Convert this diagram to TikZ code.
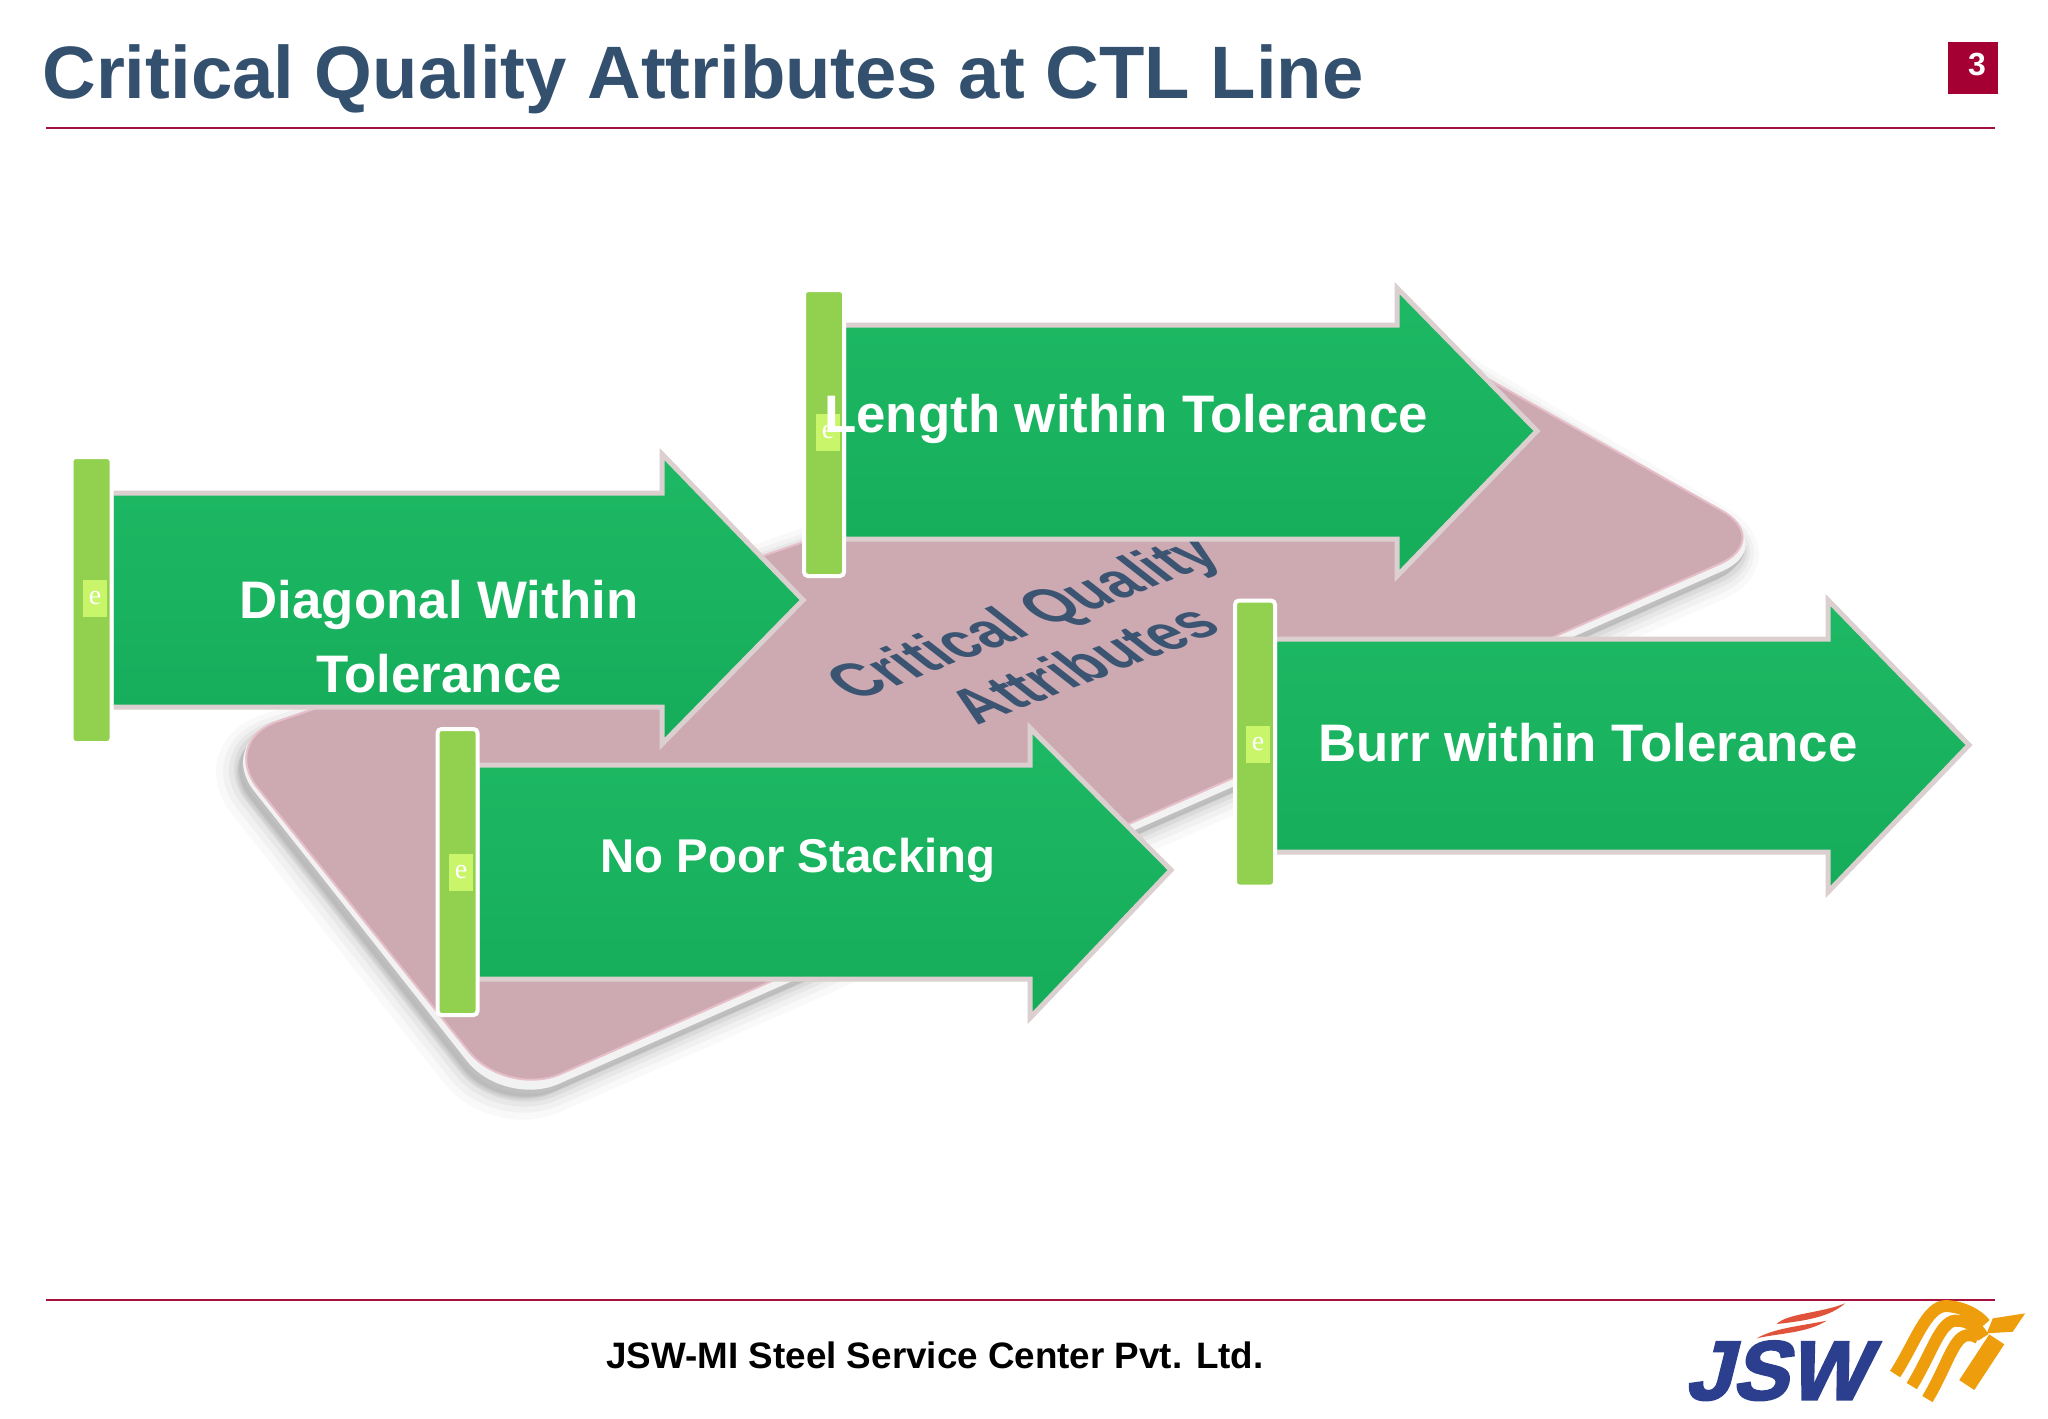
\documentclass[tikz,border=0pt]{standalone}
\usepackage{fontspec}
\setmainfont{Liberation Sans}
\newfontfamily\chipfont{Liberation Serif}
\newfontfamily\logofont[FakeBold=2.5,FakeSlant=.25]{Liberation Sans Bold}
\usetikzlibrary{shapes.geometric}
\definecolor{navytitle}{HTML}{34506F}
\definecolor{linered}{HTML}{A6103F}
\definecolor{badgered}{HTML}{A50034}
\definecolor{arrowtop}{HTML}{1EB964}
\definecolor{arrowlow}{HTML}{15AC5A}
\definecolor{arrowrim}{HTML}{DCCFCF}
\definecolor{barlime}{HTML}{92D050}
\definecolor{chiplime}{HTML}{C8F56A}
\definecolor{traypink}{HTML}{CDAAB2}
\definecolor{trayrim}{HTML}{E6BFCA}
\definecolor{logoblue}{HTML}{2B3F8E}
\definecolor{logored}{HTML}{E0523A}
\definecolor{logoorange}{HTML}{EE9D0C}
\newcommand{\trayrimpath}{(216,748) -- (503,1112) -- (1776,551) -- (1410,335) -- cycle}
\newcommand{\traytoppath}{(220,741) -- (506,1098) -- (1774,540) -- (1410,335) -- cycle}
\begin{document}
\begin{tikzpicture}[x=0.5pt,y=-0.5pt,
  arrowshape/.style={draw=arrowrim,line width=2.5pt,top color=arrowtop,bottom color=arrowlow,line join=miter},
  barshape/.style={rectangle,draw=white,line width=2pt,fill=barlime,rounded corners=2pt,minimum width=20pt,minimum height=143pt,inner sep=0pt},
  chipshape/.style={rectangle,fill=chiplime,text=white,minimum width=12pt,minimum height=18.5pt,inner sep=0pt,font=\chipfont\fontsize{14}{14}\selectfont},
  armlabel/.style={text=white,align=center,font=\bfseries\fontsize{26.4}{37}\selectfont},
  rulered/.style={draw=linered,line width=1.2pt},
  trayshadow/.style={black,rounded corners=30pt,line join=round,draw=black}]
\useasboundingbox (0,0) rectangle (2048,1418);
\fill[white] (0,0) rectangle (2048,1418);

% header and footer
\path (42,79) node[anchor=west,inner sep=0pt,text=navytitle,font=\bfseries\fontsize{37.15}{37}\selectfont](title) {Critical Quality Attributes at CTL Line}
(1973,68) node[rectangle,fill=badgered,minimum width=25pt,minimum height=26pt,inner sep=0pt](badge) {}
(1977,65) node[text=white,font=\bfseries\fontsize{16}{16}\selectfont](pageno) {3}
(935,1355) node[text=black,font=\bfseries\fontsize{18.4}{18.4}\selectfont](footer) {JSW-MI Steel Service Center Pvt. Ltd.};
\draw[rulered] (46,128) -- (1995,128);
\draw[rulered] (46,1300) -- (1995,1300);

% tray
\fill[trayshadow,opacity=.025,line width=20pt,shift={(-6,6)}] \trayrimpath;
\fill[trayshadow,opacity=.03,line width=14pt,shift={(-5,5)}] \trayrimpath;
\fill[trayshadow,opacity=.04,line width=9pt,shift={(-4,4)}] \trayrimpath;
\fill[trayshadow,opacity=.05,line width=5pt,shift={(-3,3)}] \trayrimpath;
\fill[gray!50,rounded corners=30pt] \trayrimpath;
\fill[white!90!gray,rounded corners=30pt,shift={(1,-4)}] \trayrimpath;
\draw[trayrim,fill=traypink,line width=1pt,rounded corners=30pt] \traytoppath;
\path (1052,640) node[text=navytitle,align=center,rotate=21,xslant=-.6,opacity=.95,font=\bfseries\fontsize{28}{33}\selectfont](traytext) {Critical Quality\\Attributes};

% length arm
\draw[arrowshape] (843.5,325) -- (1397,325) -- (1397,288) -- (1537,431) -- (1397,576) -- (1397,539) -- (843.5,539) -- cycle;
\path (824,433) node[barshape](barL) {}
(828,432) node[chipshape](chipL) {e}
(1126,419) node[armlabel](textL) {Length within Tolerance};

% diagonal arm
\draw[arrowshape] (111,493) -- (662,493) -- (662,454) -- (803,600) -- (662,744) -- (662,707) -- (111,707) -- cycle;
\path (91.5,600) node[barshape](barD) {}
(95,598) node[chipshape](chipD) {e}
(439,637) node[armlabel](textD) {Diagonal Within\\Tolerance};

% stacking arm
\draw[arrowshape] (477,765) -- (1030,765) -- (1030,728) -- (1171,870) -- (1030,1018) -- (1030,979) -- (477,979) -- cycle;
\path (457.5,872) node[barshape](barN) {}
(461,872) node[chipshape](chipN) {e}
(798,860) node[armlabel,font=\bfseries\fontsize{23.7}{30}\selectfont](textN) {No Poor Stacking};

% burr arm
\draw[arrowshape] (1274.5,639) -- (1828,639) -- (1828,600) -- (1969,745) -- (1828,892) -- (1828,852) -- (1274.5,852) -- cycle;
\path (1255,743.5) node[barshape](barB) {}
(1258,744) node[chipshape](chipB) {e}
(1588,743) node[armlabel](textB) {Burr within Tolerance};

% logo
\begin{scope}[shift={(1600,1250)},x=0.1667pt,y=-0.1667pt]
\path (527,362) node[text=logoblue,inner sep=0pt,font=\logofont\fontsize{42}{42}\selectfont](logojsw) {JSW};
\fill[logored] (530,222) .. controls (560,190) and (660,190) .. (735,160) .. controls (690,200) and (620,212) .. cycle;
\fill[logored] (470,265) .. controls (520,235) and (600,228) .. (680,212) .. controls (620,250) and (530,250) .. cycle;
\draw[logoorange,line width=6pt] (885,372) .. controls (945,280) and (980,165) .. (1040,168) .. controls (1090,171) and (1135,195) .. (1155,222);
\draw[logoorange,line width=6pt] (935,408) .. controls (995,310) and (1020,215) .. (1065,212) .. controls (1105,210) and (1135,235) .. (1150,262);
\draw[logoorange,line width=6pt] (982,447) .. controls (1040,350) and (1060,262) .. (1100,256) .. controls (1115,254) and (1125,258) .. (1135,265);
\draw[logoorange,line width=9pt] (1100,405) -- (1190,268);
\fill[logoorange] (1178,205) -- (1275,190) -- (1238,245) -- (1160,250) -- cycle;
\end{scope}
\end{tikzpicture}
\end{document}
